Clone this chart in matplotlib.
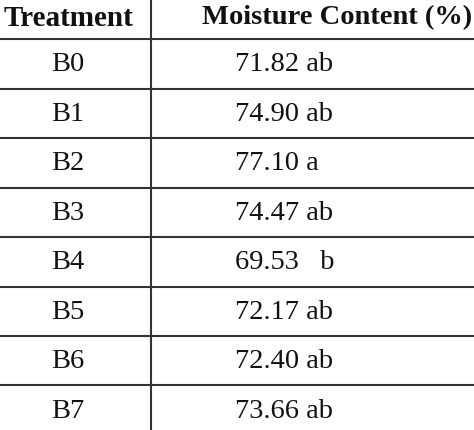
import matplotlib
matplotlib.use('Agg')
import matplotlib.pyplot as plt

treatments = ['B0', 'B1', 'B2', 'B3', 'B4', 'B5', 'B6', 'B7']
moisture = ['71.82', '74.90', '77.10', '74.47', '69.53', '72.17', '72.40', '73.66']
letters = ['ab', 'ab', 'a', 'ab', '  b', 'ab', 'ab', 'ab']

W, H = 474, 431
fig = plt.figure(figsize=(W / 100, H / 100), dpi=100)
ax = fig.add_axes([0, 0, 1, 1])
ax.set_xlim(0, W)
ax.set_ylim(H, 0)
ax.axis('off')

font = dict(family='Liberation Serif', color='#111111')
row_h = 49.5
top = 40

ax.text(68, 18, 'Treatment', ha='center', va='center', fontweight='bold', fontsize=21, **font)
ax.text(337, 18, 'Moisture Content (%)', ha='center', va='center', fontweight='bold', fontsize=20.5, **font)
ax.axvline(151, color='#333333', lw=1.5)
ax.axhline(top, color='#333333', lw=1.5)

for i, (t, m, l) in enumerate(zip(treatments, moisture, letters)):
    yc = top + row_h * (i + 0.5)
    ax.text(68, yc, t, ha='center', va='center', fontsize=20.5, **font)
    ax.text(235, yc, f'{m} {l}', ha='left', va='center', fontsize=20.5, **font)
    if i < len(treatments) - 1:
        ax.axhline(top + row_h * (i + 1), color='#333333', lw=1.5)

fig.savefig('out.png', dpi=100)
